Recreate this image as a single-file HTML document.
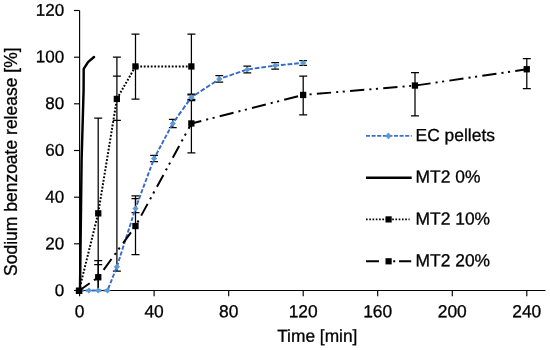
<!DOCTYPE html><html><head><meta charset="utf-8"><title>Sodium benzoate release</title><style>html,body{margin:0;padding:0;background:#fff}svg{display:block}text{font-family:"Liberation Sans",Arial,sans-serif;fill:#000;stroke:#000;stroke-width:0.3px}</style></head><body>
<svg width="550" height="350" viewBox="0 0 550 350">
<rect width="550" height="350" fill="#fff"/>
<g stroke="#000" stroke-width="1.15" fill="none">
<path d="M79.6 10.5V296.3"/>
<path d="M74.0 290.5H545.5"/>
<path d="M74.0 243.8H79.6"/>
<path d="M74.0 197.2H79.6"/>
<path d="M74.0 150.5H79.6"/>
<path d="M74.0 103.8H79.6"/>
<path d="M74.0 57.2H79.6"/>
<path d="M74.0 10.5H79.6"/>
<path d="M154.1 290.5V296.3"/>
<path d="M228.7 290.5V296.3"/>
<path d="M303.2 290.5V296.3"/>
<path d="M377.7 290.5V296.3"/>
<path d="M452.3 290.5V296.3"/>
<path d="M526.8 290.5V296.3"/>
</g>
<text x="64.2" y="296.0" transform="rotate(0.05 64.2 296.0)" font-size="17.0" text-anchor="end">0</text>
<text x="64.2" y="249.3" transform="rotate(0.05 64.2 249.3)" font-size="17.0" text-anchor="end">20</text>
<text x="64.2" y="202.6" transform="rotate(0.05 64.2 202.6)" font-size="17.0" text-anchor="end">40</text>
<text x="64.2" y="155.8" transform="rotate(0.05 64.2 155.8)" font-size="17.0" text-anchor="end">60</text>
<text x="64.2" y="109.1" transform="rotate(0.05 64.2 109.1)" font-size="17.0" text-anchor="end">80</text>
<text x="64.2" y="62.4" transform="rotate(0.05 64.2 62.4)" font-size="17.0" text-anchor="end">100</text>
<text x="64.2" y="15.7" transform="rotate(0.05 64.2 15.7)" font-size="17.0" text-anchor="end">120</text>
<text x="79.6" y="317.2" transform="rotate(0.05 79.6 317.2)" font-size="17.4" text-anchor="middle">0</text>
<text x="154.1" y="317.2" transform="rotate(0.05 154.1 317.2)" font-size="17.4" text-anchor="middle">40</text>
<text x="228.7" y="317.2" transform="rotate(0.05 228.7 317.2)" font-size="17.4" text-anchor="middle">80</text>
<text x="303.2" y="317.2" transform="rotate(0.05 303.2 317.2)" font-size="17.4" text-anchor="middle">120</text>
<text x="377.7" y="317.2" transform="rotate(0.05 377.7 317.2)" font-size="17.4" text-anchor="middle">160</text>
<text x="452.3" y="317.2" transform="rotate(0.05 452.3 317.2)" font-size="17.4" text-anchor="middle">200</text>
<text x="526.8" y="317.2" transform="rotate(0.05 526.8 317.2)" font-size="17.4" text-anchor="middle">240</text>
<text x="317.3" y="341.8" transform="rotate(0.05 317.3 341.8)" font-size="17.35" text-anchor="middle">Time [min]</text>
<text transform="translate(17.2,161.7) rotate(-90)" font-size="17.5" text-anchor="middle">Sodium benzoate release [%]</text>
<path d="M135.5 195.8V212.6M131.5 195.8H139.5M131.5 212.6H139.5" stroke="#000" stroke-width="1.25" fill="none"/>
<path d="M154.1 155.4V161.7M150.2 155.4H158.0M150.2 161.7H158.0" stroke="#000" stroke-width="1.25" fill="none"/>
<path d="M172.8 119.4V127.7M168.9 119.4H176.7M168.9 127.7H176.7" stroke="#000" stroke-width="1.25" fill="none"/>
<path d="M191.4 94.0V100.5M187.5 94.0H195.3M187.5 100.5H195.3" stroke="#000" stroke-width="1.25" fill="none"/>
<path d="M219.3 75.7V82.0M215.4 75.7H223.2M215.4 82.0H223.2" stroke="#000" stroke-width="1.25" fill="none"/>
<path d="M247.3 66.1V72.8M243.4 66.1H251.2M243.4 72.8H251.2" stroke="#000" stroke-width="1.25" fill="none"/>
<path d="M275.2 62.6V69.2M271.3 62.6H279.1M271.3 69.2H279.1" stroke="#000" stroke-width="1.25" fill="none"/>
<path d="M303.2 60.6V65.4M299.3 60.6H307.1M299.3 65.4H307.1" stroke="#000" stroke-width="1.25" fill="none"/>
<path d="M98.2 118.0V290.0M94.2 118.0H102.2" stroke="#000" stroke-width="1.25" fill="none"/>
<path d="M116.9 57.0V271.2M112.9 57.0H120.9M112.9 76.0H120.9M112.9 120.4H120.9M112.9 271.2H120.9" stroke="#000" stroke-width="1.25" fill="none"/>
<path d="M135.5 34.0V99.2M131.5 34.0H139.5M131.5 99.2H139.5" stroke="#000" stroke-width="1.25" fill="none"/>
<path d="M191.4 34.0V99.3M187.4 34.0H195.4M187.4 99.3H195.4" stroke="#000" stroke-width="1.25" fill="none"/>
<path d="M98.2 260.5V290.0M94.2 260.5H102.2M94.2 264.5H102.2" stroke="#000" stroke-width="1.25" fill="none"/>
<path d="M135.5 198.5V254.7M131.5 198.5H139.5M131.5 254.7H139.5" stroke="#000" stroke-width="1.25" fill="none"/>
<path d="M191.4 94.9V152.9M187.4 94.9H195.4M187.4 152.9H195.4" stroke="#000" stroke-width="1.25" fill="none"/>
<path d="M303.2 76.0V114.9M299.2 76.0H307.2M299.2 114.9H307.2" stroke="#000" stroke-width="1.25" fill="none"/>
<path d="M415.0 72.7V115.9M411.0 72.7H419.0M411.0 115.9H419.0" stroke="#000" stroke-width="1.25" fill="none"/>
<path d="M526.8 58.6V88.7M522.8 58.6H530.8M522.8 88.7H530.8" stroke="#000" stroke-width="1.25" fill="none"/>
<path d="M79.6 290.5L88.9 290.5L98.2 290.5L107.5 290.5L116.9 266.8C117.3 265.4 134.9 210.3 135.5 208.5C136.1 206.7 153.5 160.0 154.1 158.6C154.8 157.2 172.1 124.5 172.8 123.5" stroke="#3569cc" stroke-width="1.9" fill="none" stroke-dasharray="4.25 1.7"/>
<path d="M172.8 123.5C173.4 122.5 190.6 98.1 191.4 97.4C192.2 96.7 218.4 79.6 219.3 79.1C220.3 78.6 246.4 69.7 247.3 69.5C248.2 69.3 274.3 65.7 275.2 65.6C276.2 65.5 302.7 62.9 303.2 62.9" stroke="#3569cc" stroke-width="1.9" fill="none" stroke-dasharray="4.7 1.9" stroke-dashoffset="3"/>
<path d="M76.5 290.5L79.6 287.4L82.7 290.5L79.6 293.6Z" fill="#5b9bd5"/>
<path d="M85.8 290.5L88.9 287.4L92.0 290.5L88.9 293.6Z" fill="#5b9bd5"/>
<path d="M95.1 290.5L98.2 287.4L101.3 290.5L98.2 293.6Z" fill="#5b9bd5"/>
<path d="M104.4 290.5L107.5 287.4L110.6 290.5L107.5 293.6Z" fill="#5b9bd5"/>
<path d="M113.8 266.8L116.9 263.7L120.0 266.8L116.9 269.9Z" fill="#5b9bd5"/>
<path d="M132.4 208.5L135.5 205.4L138.6 208.5L135.5 211.6Z" fill="#5b9bd5"/>
<path d="M151.0 158.6L154.1 155.5L157.2 158.6L154.1 161.7Z" fill="#5b9bd5"/>
<path d="M169.7 123.5L172.8 120.4L175.9 123.5L172.8 126.6Z" fill="#5b9bd5"/>
<path d="M188.3 97.4L191.4 94.3L194.5 97.4L191.4 100.5Z" fill="#5b9bd5"/>
<path d="M216.2 79.1L219.3 76.0L222.4 79.1L219.3 82.2Z" fill="#5b9bd5"/>
<path d="M244.2 69.5L247.3 66.4L250.4 69.5L247.3 72.6Z" fill="#5b9bd5"/>
<path d="M272.1 65.6L275.2 62.5L278.3 65.6L275.2 68.7Z" fill="#5b9bd5"/>
<path d="M300.1 62.9L303.2 59.8L306.3 62.9L303.2 66.0Z" fill="#5b9bd5"/>
<path d="M80.0 290.5 L81.6 160 L83.6 90 L83.7 68.8 L88 62.1 L94 57" stroke="#000" stroke-width="2.45" fill="none" stroke-linecap="round" stroke-linejoin="round"/>
<path d="M79.0 290.8L98.2 213.3L116.9 98.9L135.5 66.4L191.4 66.4" stroke="#000" stroke-width="2" fill="none" stroke-dasharray="1.8 1.7"/>
<rect x="75.9" y="287.7" width="6.3" height="6.3" fill="#000"/>
<rect x="95.1" y="210.2" width="6.3" height="6.3" fill="#000"/>
<rect x="113.7" y="95.8" width="6.3" height="6.3" fill="#000"/>
<rect x="132.3" y="63.3" width="6.3" height="6.3" fill="#000"/>
<rect x="188.2" y="63.3" width="6.3" height="6.3" fill="#000"/>
<path d="M79.0 290.8L98.2 277.2L135.5 226.1L191.4 123.5" stroke="#000" stroke-width="2.0" fill="none" stroke-dasharray="13.4 5.2 2.2 4.4 2.2 5.6" stroke-dashoffset="0.3"/>
<path d="M191.4 123.5L303.2 94.9L415.0 85.6L526.8 69.3" stroke="#000" stroke-width="1.9" fill="none" stroke-dasharray="14.3 5.05 2.1 4.5 2.1 5.25" stroke-dashoffset="4.1"/>
<rect x="75.9" y="287.7" width="6.3" height="6.3" fill="#000"/>
<rect x="95.1" y="274.1" width="6.3" height="6.3" fill="#000"/>
<rect x="132.3" y="222.9" width="6.3" height="6.3" fill="#000"/>
<rect x="188.2" y="120.3" width="6.3" height="6.3" fill="#000"/>
<rect x="300.0" y="91.8" width="6.3" height="6.3" fill="#000"/>
<rect x="411.8" y="82.4" width="6.3" height="6.3" fill="#000"/>
<rect x="523.6" y="66.1" width="6.3" height="6.3" fill="#000"/>
<path d="M366 135.9H411.7" stroke="#3b6fcf" stroke-width="1.6" stroke-dasharray="4.0 1.6"/>
<path d="M385.1 135.9L388.4 132.6L391.7 135.9L388.4 139.2Z" fill="#5b9bd5"/>
<path d="M366 177.7H411.7" stroke="#000" stroke-width="2.6"/>
<path d="M366 219.4H409.6" stroke="#000" stroke-width="1.7" stroke-dasharray="1.65 1.62"/>
<rect x="385.5" y="216.3" width="6.2" height="6.2" fill="#000"/>
<path d="M366 261.3H379M399 261.3H411.2M393.2 261.3h2" stroke="#000" stroke-width="2"/>
<rect x="385.5" y="258.2" width="6.2" height="6.2" fill="#000"/>
<text x="415.6" y="140.9" transform="rotate(0.05 415.6 140.9)" font-size="17.42">EC pellets</text>
<text x="415.6" y="182.5" transform="rotate(0.05 415.6 182.5)" font-size="17.42">MT2 0%</text>
<text x="415.6" y="224.4" transform="rotate(0.05 415.6 224.4)" font-size="17.42">MT2 10%</text>
<text x="415.6" y="266.3" transform="rotate(0.05 415.6 266.3)" font-size="17.42">MT2 20%</text>
</svg></body></html>
